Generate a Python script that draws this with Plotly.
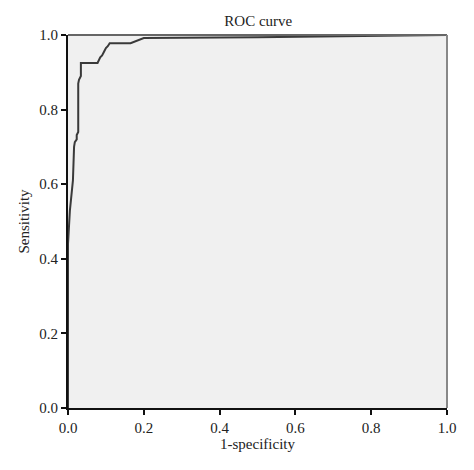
import plotly.graph_objects as go

fpr = [0.000, 0.000, 0.005, 0.010, 0.013, 0.016, 0.018, 0.018, 0.023, 0.023, 0.027, 0.027,
       0.029, 0.034, 0.034, 0.078, 0.085, 0.090, 0.095, 0.100, 0.105, 0.110, 0.165, 0.200,
       0.500, 0.800, 1.000]
tpr = [0.000, 0.440, 0.530, 0.580, 0.610, 0.700, 0.713, 0.713, 0.720, 0.732, 0.740, 0.870,
       0.880, 0.890, 0.925, 0.925, 0.940, 0.945, 0.955, 0.965, 0.970, 0.978, 0.978, 0.992,
       0.994, 0.997, 1.000]

tick_vals = [0.0, 0.2, 0.4, 0.6, 0.8, 1.0]
tick_text = ["0.0", "0.2", "0.4", "0.6", "0.8", "1.0"]

font_family = "Liberation Serif, Times New Roman, serif"

fig = go.Figure()
fig.add_trace(go.Scatter(x=fpr, y=tpr, mode="lines",
                         line=dict(color="#3a3a3a", width=2),
                         showlegend=False, hoverinfo="skip"))

fig.update_layout(
    width=474, height=470,
    margin=dict(l=60, r=35, t=27, b=70),
    paper_bgcolor="white",
    plot_bgcolor="#f0f0f0",
    font=dict(family=font_family, size=15, color="#222"),
    title=dict(text="ROC curve", x=0.528, xanchor="center", y=0.962, yanchor="bottom",
               font=dict(family=font_family, size=15, color="#222")),
    xaxis=dict(range=[0, 1], tickvals=tick_vals, ticktext=tick_text,
               showgrid=False, zeroline=False, showline=True, linecolor="#111", linewidth=2,
               ticks="outside", ticklen=5, tickwidth=1.5, tickcolor="#111",
               title=dict(text="1-specificity", standoff=2, font=dict(size=15))),
    yaxis=dict(range=[0, 1], tickvals=tick_vals, ticktext=tick_text,
               showgrid=False, zeroline=False, showline=True, linecolor="#111", linewidth=2,
               ticks="outside", ticklen=5, tickwidth=1.5, tickcolor="#111",
               title=dict(text="Sensitivity", standoff=6, font=dict(size=15))),
    shapes=[
        dict(type="line", xref="paper", yref="paper", x0=0, x1=1, y0=1, y1=1,
             line=dict(color="#666", width=2)),
        dict(type="line", xref="paper", yref="paper", x0=1, x1=1, y0=0, y1=1,
             line=dict(color="#888", width=2)),
    ],
)

fig.write_html("out.html")
